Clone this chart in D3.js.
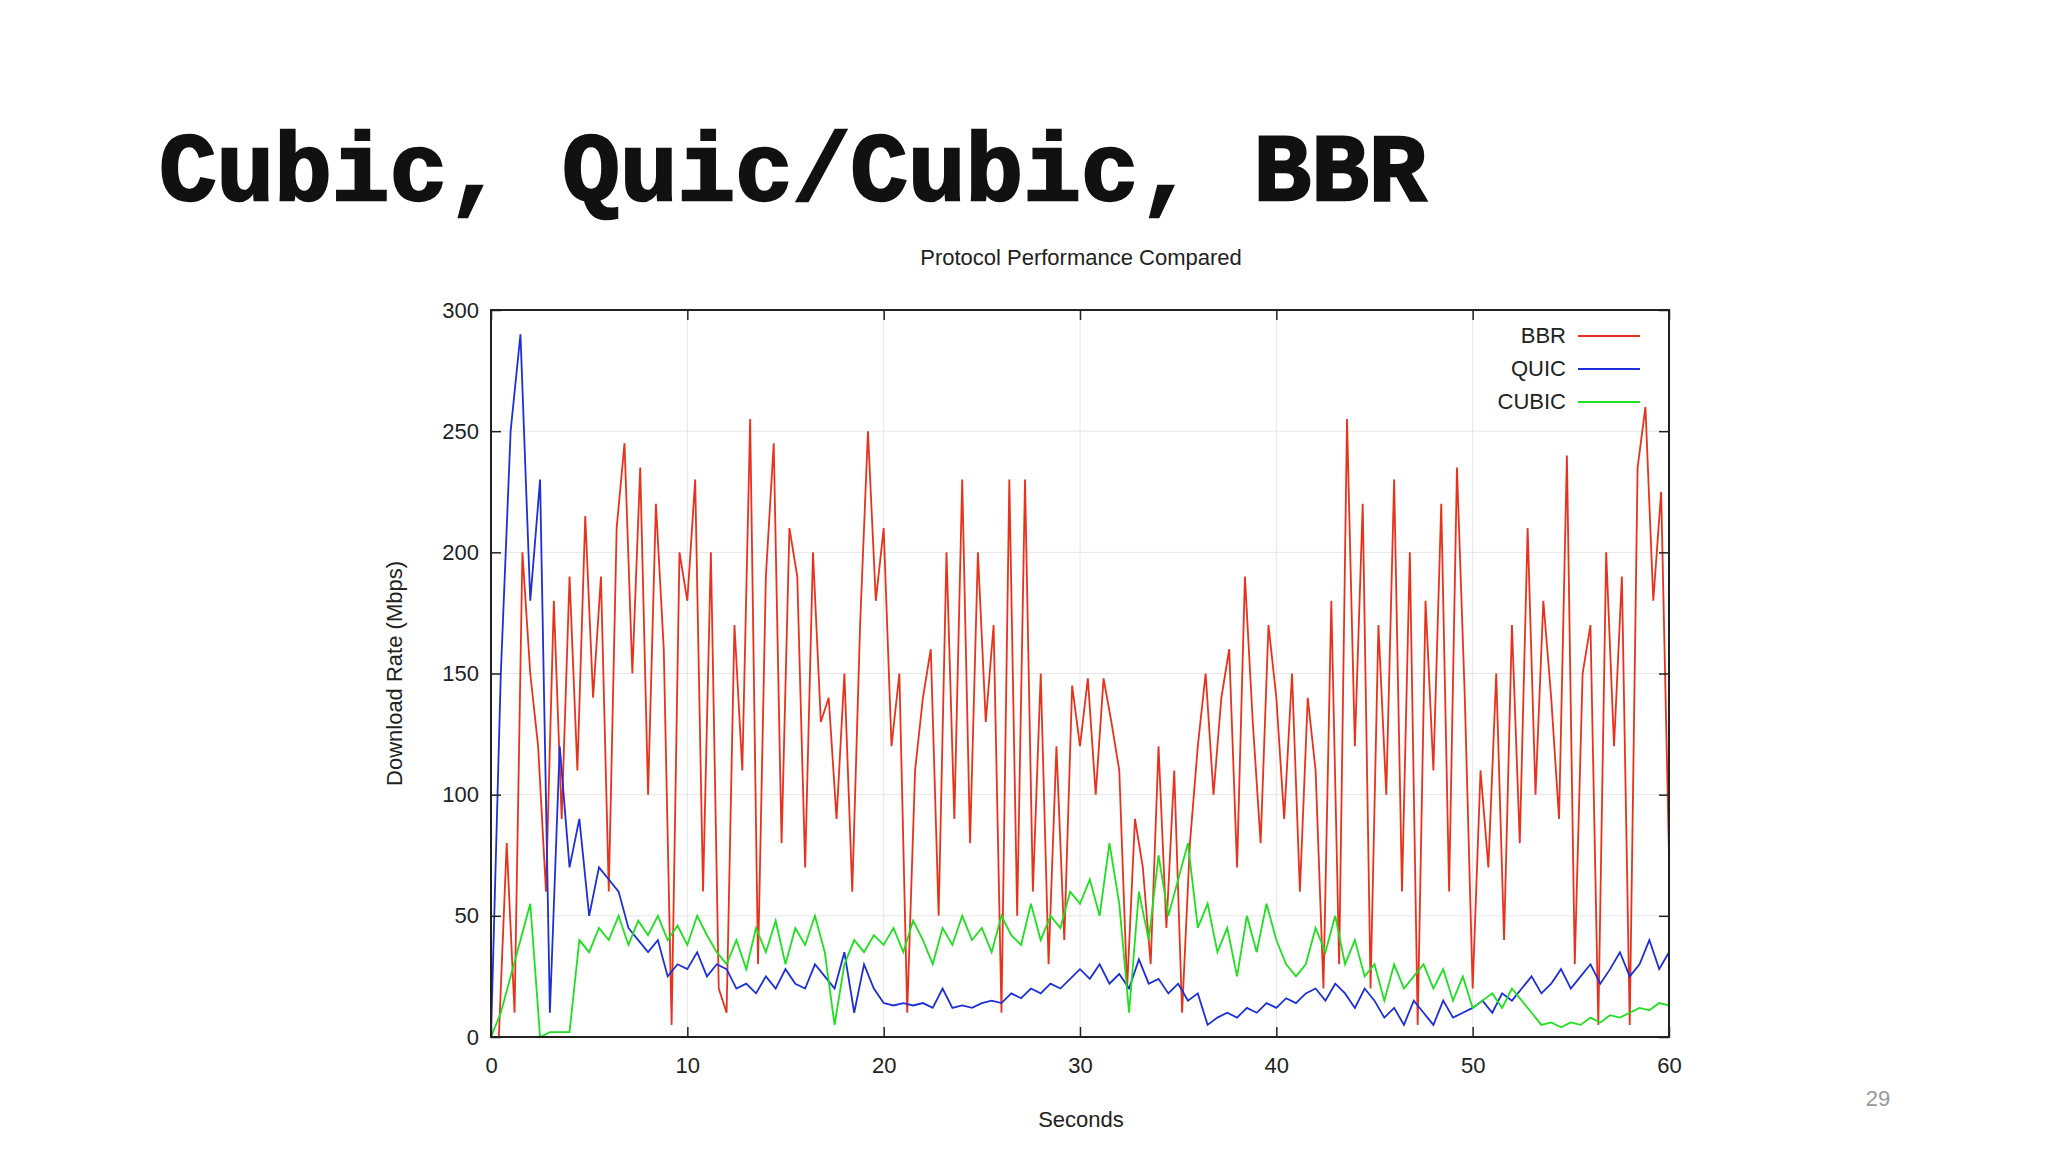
<!DOCTYPE html>
<html>
<head>
<meta charset="utf-8">
<script src="https://cdn.jsdelivr.net/npm/d3@7"></script>
<style>
  body { margin: 0; background: #fff; }
  svg { display: block; }
</style>
</head>
<body>
<svg width="2048" height="1152"></svg>
<script>
// BBR sampled every 0.4 s, QUIC / CUBIC every 0.5 s (values in Mbps)
var bbrStep = 0.4;
var bbrValues = [0,0,80,10,200,150,120,60,180,90,190,110,215,140,190,60,210,245,150,235,100,220,160,5,200,180,230,60,200,20,10,170,110,255,30,190,245,80,210,190,70,200,130,140,90,150,60,170,250,180,210,120,150,10,110,140,160,50,200,90,230,80,200,130,170,10,230,50,230,60,150,30,120,40,145,120,148,100,148,130,110,20,90,70,30,120,45,110,10,80,120,150,100,140,160,70,190,130,80,170,140,90,150,60,140,110,20,180,30,255,120,220,20,170,100,230,60,200,5,180,110,220,60,235,140,20,110,70,150,40,170,80,210,100,180,140,90,240,30,150,170,5,200,120,190,5,235,260,180,225,75];
var otherStep = 0.5;
var quicValues = [0,150,250,290,180,230,10,120,70,90,50,70,65,60,45,40,35,40,25,30,28,35,25,30,28,20,22,18,25,20,28,22,20,30,25,20,35,10,30,20,14,13,14,13,14,12,20,12,13,12,14,15,14,18,16,20,18,22,20,24,28,24,30,22,26,20,32,22,24,18,22,15,18,5,8,10,8,12,10,14,12,16,14,18,20,15,22,18,12,20,15,8,12,5,15,10,5,15,8,10,12,15,10,18,15,20,25,18,22,28,20,25,30,22,28,35,25,30,40,28,35];
var cubicValues = [0,10,25,40,55,0,2,2,2,40,35,45,40,50,38,48,42,50,40,46,38,50,42,35,30,40,28,45,35,48,30,45,38,50,35,5,30,40,35,42,38,45,35,48,40,30,45,38,50,40,45,35,50,42,38,55,40,50,45,60,55,65,50,80,55,10,60,40,75,50,65,80,45,55,35,45,25,50,35,55,40,30,25,30,45,35,50,30,40,25,30,15,30,20,25,30,20,28,15,25,12,15,18,12,20,15,10,5,6,4,6,5,8,6,9,8,10,12,11,14,13];

var xTicks = [0,10,20,30,40,50,60];
var yTicks = [0,50,100,150,200,250,300];
var seriesNames = ["BBR","QUIC","CUBIC"];
var seriesColors = ["#e8321c","#1c2fd8","#1fe01f"];

function toPoints(values, step) {
    return values.map((v, i) => ({ t: i * step, v: v }));
}

var svg = d3.select('svg');
var plotLeft = 491, plotRight = 1669, plotTop = 310, plotBottom = 1037;
var font = "'Liberation Sans', Arial, sans-serif";

var xScale = d3.scaleLinear().domain([0, 60]).range([plotLeft, plotRight]);
var yScale = d3.scaleLinear().domain([0, 300]).range([plotBottom, plotTop]);

// Slide title
svg.append('text')
    .attr('x', 159).attr('y', 200)
    .attr('font-family', "'Liberation Mono', 'DejaVu Sans Mono', monospace")
    .attr('font-weight', 'bold')
    .attr('font-size', 96)
    .attr('fill', '#111')
    .attr('stroke', '#111').attr('stroke-width', 2.5)
    .text('Cubic, Quic/Cubic, BBR');

svg.append('text')
    .attr('x', 1081).attr('y', 265)
    .attr('text-anchor', 'middle')
    .attr('font-family', font).attr('font-size', 22).attr('fill', '#222')
    .text('Protocol Performance Compared');

// Grid
svg.append('g').selectAll('line').data(yTicks).enter().append('line')
    .attr('x1', plotLeft).attr('x2', plotRight)
    .attr('y1', d => yScale(d)).attr('y2', d => yScale(d))
    .attr('stroke', '#e6e6e6');
svg.append('g').selectAll('line').data(xTicks).enter().append('line')
    .attr('y1', plotTop).attr('y2', plotBottom)
    .attr('x1', d => xScale(d)).attr('x2', d => xScale(d))
    .attr('stroke', '#e6e6e6');

// Series
var line = d3.line().x(d => xScale(d.t)).y(d => yScale(d.v));
var data = [toPoints(bbrValues, bbrStep), toPoints(quicValues, otherStep), toPoints(cubicValues, otherStep)];
data.forEach((pts, i) => {
    svg.append('path')
        .attr('d', line(pts))
        .attr('fill', 'none')
        .attr('stroke', seriesColors[i])
        .attr('stroke-width', 1.8);
});

// Frame and inward ticks (mirrored)
svg.append('rect')
    .attr('x', plotLeft).attr('y', plotTop)
    .attr('width', plotRight - plotLeft).attr('height', plotBottom - plotTop)
    .attr('fill', 'none').attr('stroke', '#222').attr('stroke-width', 2);

svg.append('g').attr('transform', `translate(0, ${plotBottom})`)
    .call(d3.axisBottom(xScale).tickValues(xTicks).tickSize(-10).tickPadding(20))
    .call(g => g.select('.domain').remove());
svg.append('g').attr('transform', `translate(0, ${plotTop})`)
    .call(d3.axisTop(xScale).tickValues(xTicks).tickSize(-10).tickFormat(''))
    .call(g => g.select('.domain').remove());
svg.append('g').attr('transform', `translate(${plotLeft}, 0)`)
    .call(d3.axisLeft(yScale).tickValues(yTicks).tickSize(-10).tickPadding(12))
    .call(g => g.select('.domain').remove());
svg.append('g').attr('transform', `translate(${plotRight}, 0)`)
    .call(d3.axisRight(yScale).tickValues(yTicks).tickSize(-10).tickFormat(''))
    .call(g => g.select('.domain').remove());

svg.selectAll('.tick text')
    .attr('font-family', font).attr('font-size', 22).attr('fill', '#222');
svg.selectAll('.tick line').attr('stroke', '#222').attr('stroke-width', 1.5);

// Axis titles
svg.append('text')
    .attr('transform', `translate(402, ${(plotTop + plotBottom) / 2}) rotate(-90)`)
    .attr('text-anchor', 'middle')
    .attr('font-family', font).attr('font-size', 22).attr('fill', '#222')
    .text('Download Rate (Mbps)');
svg.append('text')
    .attr('x', 1081).attr('y', 1127)
    .attr('text-anchor', 'middle')
    .attr('font-family', font).attr('font-size', 22).attr('fill', '#222')
    .text('Seconds');

// Legend
seriesNames.forEach((name, i) => {
    var y = 336 + i * 33;
    svg.append('text')
        .attr('x', 1566).attr('y', y + 7)
        .attr('text-anchor', 'end')
        .attr('font-family', font).attr('font-size', 22).attr('fill', '#222')
        .text(name);
    svg.append('line')
        .attr('x1', 1578).attr('x2', 1640).attr('y1', y).attr('y2', y)
        .attr('stroke', seriesColors[i]).attr('stroke-width', 2);
});

// Slide number
svg.append('text')
    .attr('x', 1878).attr('y', 1106)
    .attr('text-anchor', 'middle')
    .attr('font-family', font).attr('font-size', 22).attr('fill', '#999')
    .text('29');
</script>
</body>
</html>
